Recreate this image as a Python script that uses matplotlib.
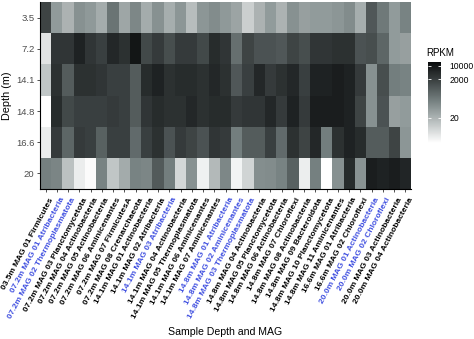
import numpy as np
import matplotlib
matplotlib.use('Agg')
import matplotlib.pyplot as plt
import matplotlib.transforms as mtransforms
from matplotlib.colors import LogNorm, LinearSegmentedColormap

plt.rcParams['font.family'] = ['Liberation Sans', 'DejaVu Sans']

depths = ['3.5', '7.2', '14.1', '14.8', '16.6', '20']

mags = ['03.5m MAG 01 Firmicutes', '07.2m MAG 01 Atribacteria', '07.2m MAG 02 Thermoplasmatota',
        '07.2m MAG 03 Planctomycetota', '07.2m MAG 04 Actinobacteria', '07.2m MAG 05 Actinobacteria',
        '07.2m MAG 06 Aminicenantes', '07.2m MAG 07 FirmicutesA', '07.2m MAG 08 Crenarchaeota',
        '14.1m MAG 01 Actinobacteria', '14.1m MAG 02 Atribacteria', '14.1m MAG 03 Atribacteria',
        '14.1m MAG 04 Actinobacteria', '14.1m MAG 05 Thermoplasmatota', '14.1m MAG 06 Aminicenantes',
        '14.1m MAG 07 Aminicenantes', '14.8m MAG 01 Atribacteria', '14.8m MAG 02 Aminicenantes',
        '14.8m MAG 03 Thermoplasmatota', '14.8m MAG 04 Actinobacteria', '14.8m MAG 05 Planctomycetota',
        '14.8m MAG 06 Actinobacteria', '14.8m MAG 07 Chloroflexi', '14.8m MAG 08 Actinobacteria',
        '14.8m MAG 09 Bacteroidota', '14.8m MAG 10 Planctomycetota', '14.8m MAG 11 Aminicenantes',
        '16.6m MAG 01 Atribacteria', '16.6m MAG 02 Chloroflexi', '20.0m MAG 01 Actinobacteria',
        '20.0m MAG 02 Chloroflexi', '20.0m MAG 03 Actinobacteria', '20.0m MAG 04 Actinobacteria']

# labels drawn in blue
highlighted = ['07.2m MAG 01 Atribacteria', '07.2m MAG 02 Thermoplasmatota', '14.1m MAG 03 Atribacteria',
               '14.8m MAG 01 Atribacteria', '14.8m MAG 02 Aminicenantes', '14.8m MAG 03 Thermoplasmatota',
               '20.0m MAG 01 Actinobacteria', '20.0m MAG 02 Chloroflexi']

# RPKM per depth (one value per MAG)
rpkm_3_5 = [1628, 54, 21, 78, 58, 27, 245, 34, 115, 27, 78, 25, 65, 14, 65, 95, 58,
            37, 6.7, 21, 54, 21, 78, 44, 54, 54, 65, 95, 25, 762, 202, 54, 138]
rpkm_7_2 = [3.1, 2875, 2875, 6140, 2875, 1968, 5080, 3475, 10000, 1346, 2378, 1114, 2378, 2378, 1346, 4202, 2875,
            296, 1628, 922, 922, 762, 1628, 1114, 2875, 2875, 3475, 3475, 922, 1114, 432, 54, 44]
rpkm_14_1 = [9.7, 3475, 631, 3475, 3475, 2875, 1968, 1968, 631, 4202, 6140, 3475, 4202, 4202, 3475, 5080, 3475,
             762, 1968, 5080, 2378, 3475, 5080, 1968, 6140, 6140, 7420, 6140, 2378, 78, 1114, 167, 138]
rpkm_14_8 = [1, 4202, 1346, 1968, 1968, 1968, 2378, 1968, 631, 2875, 4202, 3475, 3475, 5080, 3475, 4202, 4202,
             2378, 2875, 2875, 5080, 2378, 6140, 2378, 7420, 7420, 7420, 6140, 1628, 78, 922, 44, 54]
rpkm_16_6 = [2.1, 2378, 432, 2378, 1968, 522, 1968, 1968, 357, 1968, 3475, 922, 2378, 1628, 922, 2875, 2378,
             167, 631, 631, 1968, 357, 3475, 1628, 5080, 167, 3475, 6140, 4202, 631, 631, 1628, 65]
rpkm_20 = [155, 125, 12, 2.1, 1.2, 138, 9.7, 28, 138, 120, 680, 167, 5, 78, 1.8, 16, 115,
           1.6, 5.5, 88, 95, 138, 522, 2, 155, 1, 78, 4202, 72, 7420, 6140, 7420, 5500]

grid = np.array([rpkm_3_5, rpkm_7_2, rpkm_14_1, rpkm_14_8, rpkm_16_6, rpkm_20])

cmap = LinearSegmentedColormap.from_list('rpkm', ['#ffffff', '#7a8585', '#080a0b'])
norm = LogNorm(vmin=1, vmax=16000)

W, H = 474, 339
fig = plt.figure(figsize=(W / 100, H / 100), dpi=100)
ax = fig.add_axes([40 / W, 1 - 189 / H, 371 / W, 187 / H])

nx, ny = len(mags), len(depths)
mesh = ax.pcolormesh(np.arange(nx + 1) - 0.5, np.arange(ny + 1) - 0.5, grid,
                     cmap=cmap, norm=norm, shading='flat')
ax.set_xlim(-0.5, nx - 0.5)
ax.set_ylim(ny - 0.5, -0.5)

for s in ['top', 'right']:
    ax.spines[s].set_visible(False)
for s in ['left', 'bottom']:
    ax.spines[s].set_linewidth(0.8)

ax.set_yticks(range(ny))
ax.set_yticklabels(depths, fontsize=6.8, color='#4d4d4d')
ax.set_xticks(range(nx))
ax.set_xticklabels([])
ax.tick_params(axis='both', length=2.5, width=0.6, color='#333333', pad=1.5)

# rotated MAG labels, placed by hand so they can be nudged right of the tick
lab_tr = ax.get_xaxis_transform() + mtransforms.ScaledTranslation(3 / 100, -7.5 / 100, fig.dpi_scale_trans)
for i, name in enumerate(mags):
    ax.text(i, 0, name, transform=lab_tr, rotation=62, ha='right', va='top',
            rotation_mode='anchor', fontsize=6.0, fontweight='bold',
            color='#4050e0' if name in highlighted else 'black')

ax.set_ylabel('Depth (m)', fontsize=7.8, labelpad=3)
fig.text(225 / W, 1 - 332 / H, 'Sample Depth and MAG', fontsize=7.6, ha='center', va='center')

# colour bar
cax = fig.add_axes([428 / W, 1 - 143 / H, 13 / W, 81 / H])
cb = fig.colorbar(mesh, cax=cax, ticks=[20, 2000, 10000])
cb.outline.set_visible(False)
cax.minorticks_off()
cb.set_ticklabels(['20', '2000', '10000'])
cax.tick_params(length=2.5, width=0.6, color='white', direction='in', labelsize=6.2,
                pad=6, left=True, right=True)
fig.text(426 / W, 1 - 53 / H, 'RPKM', fontsize=7, ha='left', va='center')

fig.savefig('out.png', dpi=100)
